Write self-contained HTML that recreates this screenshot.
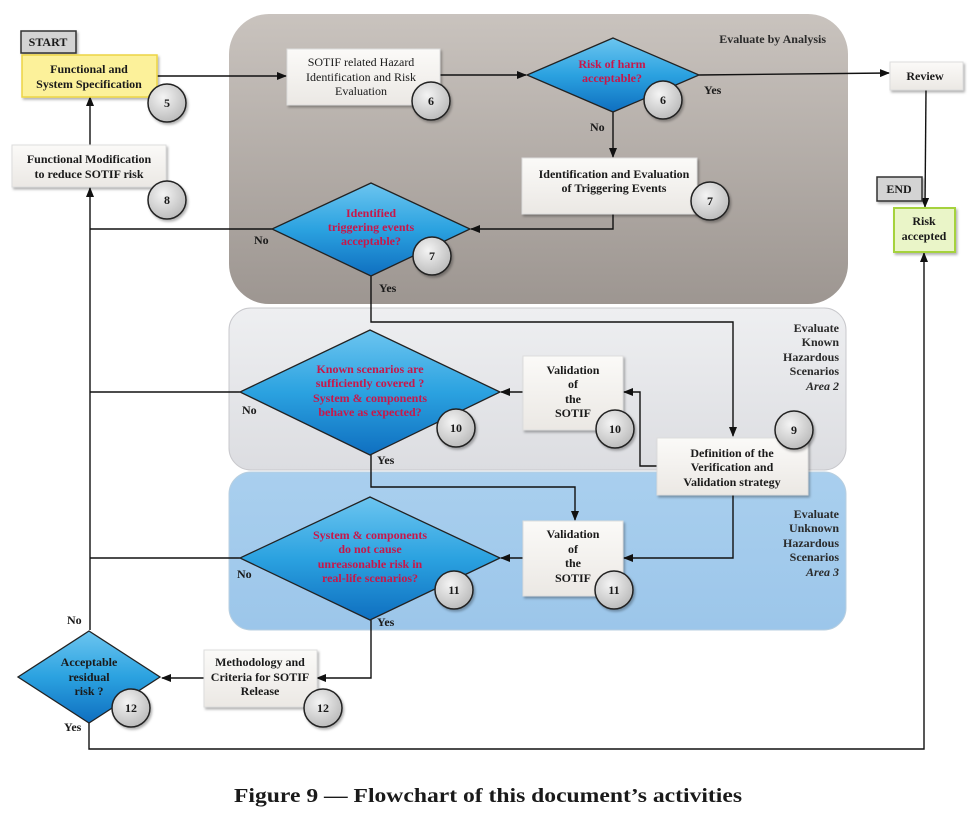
<!DOCTYPE html>
<html><head><meta charset="utf-8"><style>
html,body{margin:0;padding:0;background:#fff;}
svg{display:block;font-family:"Liberation Serif",serif;font-weight:bold;}
</style></head><body>
<svg width="973" height="814" viewBox="0 0 973 814" xmlns="http://www.w3.org/2000/svg">
<defs>
<linearGradient id="gA" x1="0" y1="0" x2="0" y2="1"><stop offset="0" stop-color="#c9c3be"/><stop offset="1" stop-color="#9d9691"/></linearGradient>
<linearGradient id="gB" x1="0" y1="0" x2="0" y2="1"><stop offset="0" stop-color="#eeeff1"/><stop offset="1" stop-color="#dcdde1"/></linearGradient>
<linearGradient id="gC" x1="0" y1="0" x2="0" y2="1"><stop offset="0" stop-color="#a9cfee"/><stop offset="1" stop-color="#9cc6ea"/></linearGradient>
<linearGradient id="dia" x1="0" y1="0" x2="0" y2="1"><stop offset="0" stop-color="#6cc5f0"/><stop offset="0.5" stop-color="#2ba2e0"/><stop offset="1" stop-color="#0f6fc0"/></linearGradient>
<linearGradient id="box" x1="0" y1="0" x2="0" y2="1"><stop offset="0" stop-color="#fbfaf8"/><stop offset="1" stop-color="#ebe8e4"/></linearGradient>
<radialGradient id="cir" cx="0.4" cy="0.35" r="0.7"><stop offset="0" stop-color="#f4f4f4"/><stop offset="1" stop-color="#b9b9b9"/></radialGradient>
<filter id="sh" x="-10%" y="-10%" width="130%" height="130%"><feDropShadow dx="1.5" dy="2" stdDeviation="1.2" flood-color="#000" flood-opacity="0.3"/></filter>
<marker id="ar" markerWidth="10" markerHeight="8" refX="9" refY="4" orient="auto" markerUnits="userSpaceOnUse"><path d="M0,0 L10,4 L0,8 z" fill="#111"/></marker>
</defs>
<rect x="229" y="14" width="619" height="290" rx="40" fill="url(#gA)"/>
<rect x="229" y="308" width="617" height="162" rx="22" fill="url(#gB)" stroke="#c8c8cc"/>
<rect x="229" y="472" width="617" height="158" rx="22" fill="url(#gC)" stroke="#b8cfe0"/>
<g font-size="12" fill="#2a2a2a" text-anchor="end">
<text x="826" y="43">Evaluate by Analysis</text>
<text x="839" y="332">Evaluate</text><text x="839" y="346">Known</text><text x="839" y="361">Hazardous</text><text x="839" y="375">Scenarios</text><text x="839" y="390" font-style="italic">Area 2</text>
<text x="839" y="518">Evaluate</text><text x="839" y="532">Unknown</text><text x="839" y="547">Hazardous</text><text x="839" y="561">Scenarios</text><text x="839" y="576" font-style="italic">Area 3</text>
</g>
<g stroke="#111" stroke-width="1.4" fill="none">
<line x1="157" y1="76" x2="286" y2="76" marker-end="url(#ar)"/>
<line x1="440" y1="75" x2="526" y2="75" marker-end="url(#ar)"/>
<line x1="699" y1="75" x2="889" y2="73" marker-end="url(#ar)"/>
<line x1="926" y1="90" x2="925" y2="207" marker-end="url(#ar)"/>
<line x1="613" y1="112" x2="613" y2="157" marker-end="url(#ar)"/>
<polyline points="613,214 613,229 471,229" marker-end="url(#ar)"/>
<line x1="272" y1="229" x2="90" y2="229"/>
<line x1="90" y1="630" x2="90" y2="188" marker-end="url(#ar)"/>
<line x1="90" y1="145" x2="90" y2="97" marker-end="url(#ar)"/>
<polyline points="371,276 371,322 733,322 733,436" marker-end="url(#ar)"/>
<polyline points="657,466 640,466 640,392 624,392" marker-end="url(#ar)"/>
<line x1="523" y1="392" x2="501" y2="392" marker-end="url(#ar)"/>
<line x1="240" y1="392" x2="90" y2="392"/>
<polyline points="371,455 371,487 575,487 575,520" marker-end="url(#ar)"/>
<polyline points="733,495 733,558 624,558" marker-end="url(#ar)"/>
<line x1="523" y1="558" x2="501" y2="558" marker-end="url(#ar)"/>
<line x1="240" y1="558" x2="90" y2="558"/>
<polyline points="371,620 371,678 317,678" marker-end="url(#ar)"/>
<line x1="204" y1="678" x2="162" y2="678" marker-end="url(#ar)"/>
<polyline points="89,723 89,749 924,749 924,253" marker-end="url(#ar)"/>
</g>
<g filter="url(#sh)">
<rect x="21" y="31" width="55" height="22" fill="#d3d3d3" stroke="#333" stroke-width="1.5"/>
<rect x="22" y="55" width="135" height="42" fill="#fcf19a" stroke="#ecd444" stroke-width="1.5"/>
<rect x="12" y="145" width="154" height="42" fill="url(#box)" stroke="#ddd"/>
<rect x="287" y="49" width="153" height="56" fill="url(#box)" stroke="#ddd"/>
<rect x="890" y="62" width="73" height="28" fill="url(#box)" stroke="#ddd"/>
<rect x="877" y="177" width="45" height="24" fill="#d3d3d3" stroke="#333" stroke-width="1.5"/>
<rect x="894" y="208" width="61" height="44" fill="#eaf5c8" stroke="#a5d23c" stroke-width="2"/>
<rect x="522" y="158" width="175" height="56" fill="url(#box)" stroke="#ddd"/>
<rect x="523" y="356" width="100" height="74" fill="url(#box)" stroke="#ddd"/>
<rect x="657" y="438" width="151" height="57" fill="url(#box)" stroke="#ddd"/>
<rect x="523" y="521" width="100" height="75" fill="url(#box)" stroke="#ddd"/>
<rect x="204" y="650" width="113" height="57" fill="url(#box)" stroke="#ddd"/>
</g>
<g stroke="#222" stroke-width="1.3" fill="url(#dia)">
<polygon points="613,38 699,75 613,112 527,75"/>
<polygon points="371,183 470,229 371,276 272,229"/>
<polygon points="370,330 500,392 370,455 240,392"/>
<polygon points="370,497 500,558 370,620 240,558"/>
<polygon points="89,631 160,677 89,723 18,677"/>
</g>
<g font-size="12" fill="#1a1a1a" text-anchor="middle">
<text x="48" y="46">START</text>
<text x="899" y="193">END</text>
<text x="89" y="73">Functional and</text><text x="89" y="88">System Specification</text>
<text x="89" y="163">Functional Modification</text><text x="89" y="178">to reduce SOTIF risk</text>
<g font-weight="normal"><text x="361" y="66">SOTIF related Hazard</text><text x="361" y="81">Identification and Risk</text><text x="361" y="95">Evaluation</text></g>
<text x="925" y="80">Review</text>
<text x="924" y="225">Risk</text><text x="924" y="240">accepted</text>
<text x="614" y="178">Identification and Evaluation</text><text x="614" y="192">of Triggering Events</text>
<text x="573" y="374">Validation</text><text x="573" y="388">of</text><text x="573" y="403">the</text><text x="573" y="417">SOTIF</text>
<text x="732" y="457">Definition of the</text><text x="732" y="471">Verification and</text><text x="732" y="486">Validation strategy</text>
<text x="573" y="538">Validation</text><text x="573" y="553">of</text><text x="573" y="567">the</text><text x="573" y="582">SOTIF</text>
<text x="260" y="666">Methodology and</text><text x="260" y="681">Criteria for SOTIF</text><text x="260" y="695">Release</text>
<text x="89" y="666">Acceptable</text><text x="89" y="681">residual</text><text x="89" y="695">risk ?</text>
</g>
<g font-size="12" fill="#c8174a" text-anchor="middle">
<text x="612" y="68">Risk of harm</text><text x="612" y="82">acceptable?</text>
<text x="371" y="217">Identified</text><text x="371" y="231">triggering events</text><text x="371" y="245">acceptable?</text>
<text x="370" y="373">Known scenarios are</text><text x="370" y="387">sufficiently covered ?</text><text x="370" y="402">System &amp; components</text><text x="370" y="416">behave as expected?</text>
<text x="370" y="539">System &amp; components</text><text x="370" y="553">do not cause</text><text x="370" y="568">unreasonable risk in</text><text x="370" y="582">real-life scenarios?</text>
</g>
<g stroke="#222" stroke-width="1.5" fill="url(#cir)" filter="url(#sh)">
<circle cx="167" cy="103" r="19"/><circle cx="167" cy="200" r="19"/>
<circle cx="431" cy="101" r="19"/><circle cx="663" cy="100" r="19"/>
<circle cx="710" cy="201" r="19"/><circle cx="432" cy="256" r="19"/>
<circle cx="456" cy="428" r="19"/><circle cx="615" cy="429" r="19"/>
<circle cx="794" cy="430" r="19"/>
<circle cx="454" cy="590" r="19"/><circle cx="614" cy="590" r="19"/>
<circle cx="131" cy="708" r="19"/><circle cx="323" cy="708" r="19"/>
</g>
<g font-size="12" fill="#1a1a1a" text-anchor="middle">
<text x="167" y="107">5</text><text x="167" y="204">8</text>
<text x="431" y="105">6</text><text x="663" y="104">6</text>
<text x="710" y="205">7</text><text x="432" y="260">7</text>
<text x="456" y="432">10</text><text x="615" y="433">10</text>
<text x="794" y="434">9</text>
<text x="454" y="594">11</text><text x="614" y="594">11</text>
<text x="131" y="712">12</text><text x="323" y="712">12</text>
</g>
<g font-size="12" fill="#1a1a1a">
<text x="704" y="94">Yes</text><text x="590" y="131">No</text>
<text x="254" y="244">No</text><text x="379" y="292">Yes</text>
<text x="242" y="414">No</text><text x="377" y="464">Yes</text>
<text x="237" y="578">No</text><text x="377" y="626">Yes</text>
<text x="67" y="624">No</text><text x="64" y="731">Yes</text>
</g>
<text x="488" y="802" font-size="20" fill="#1a1a1a" text-anchor="middle" textLength="508" lengthAdjust="spacingAndGlyphs">Figure 9 — Flowchart of this document’s activities</text>
</svg>
</body></html>
